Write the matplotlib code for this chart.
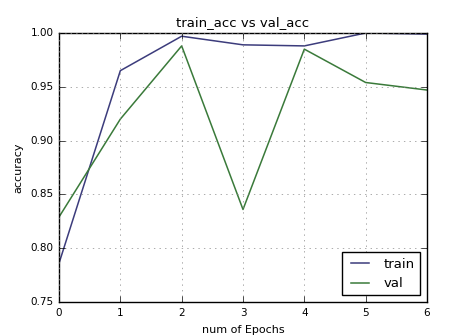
import numpy as np
import matplotlib
matplotlib.use('Agg')
import matplotlib.pyplot as plt

plt.style.use('classic')

# accuracy per epoch
epochs = [0, 1, 2, 3, 4, 5, 6]
train_acc = [0.786, 0.965, 0.997, 0.989, 0.988, 1.000, 0.999]
val_acc = [0.829, 0.920, 0.988, 0.836, 0.985, 0.954, 0.947]

fig = plt.figure(figsize=(4.74, 3.35), dpi=100, facecolor='white')
ax = fig.add_axes([0.1245, 0.0985, 0.7763, 0.803])

ax.plot(epochs, train_acc, color='#3c3c7c', lw=1.1, label='train')
ax.plot(epochs, val_acc, color='#3a7a3a', lw=1.1, label='val')

ax.set_xlim(0, 6)
ax.set_ylim(0.75, 1.0)
ax.set_xticks(epochs)
ax.set_yticks([0.75, 0.80, 0.85, 0.90, 0.95, 1.00])
ax.tick_params(labelsize=7.5)
ax.grid(True, color='#888888', linestyle=':')

ax.set_title('train_acc vs val_acc', fontsize=9.5)
ax.set_xlabel('num of Epochs', fontsize=8)
ax.set_ylabel('accuracy', fontsize=8)

leg = ax.legend(loc='lower right', fontsize=9.5, handlelength=2)
leg.get_frame().set_linewidth(1)

plt.savefig('out.png', dpi=100, facecolor='white')
